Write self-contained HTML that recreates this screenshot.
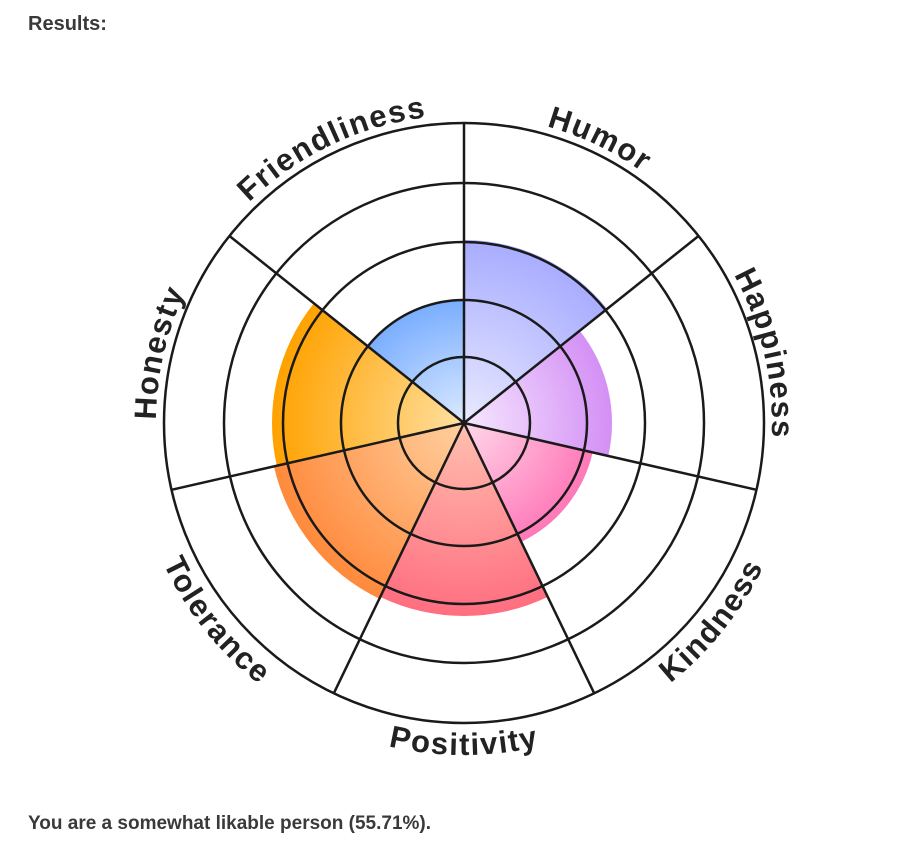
<!DOCTYPE html>
<html><head><meta charset="utf-8"><style>
html,body{margin:0;padding:0;background:#fff;width:911px;height:842px;overflow:hidden}
.t{position:absolute;left:28px;font-family:"Liberation Sans",sans-serif;font-weight:bold;color:#3a3a3a;font-size:20px}
svg{position:absolute;left:0;top:0}
</style></head><body>
<div class="t" style="top:13px">Results:</div>
<div class="t" style="top:813px;font-size:19px">You are a somewhat likable person (55.71%).</div>
<svg width="911" height="842" viewBox="0 0 911 842">
<defs>
<radialGradient id="g1" gradientUnits="userSpaceOnUse" cx="464" cy="423" r="183"><stop offset="0" stop-color="#e8eaff"/><stop offset="1" stop-color="#a8acff"/></radialGradient>
<radialGradient id="g2" gradientUnits="userSpaceOnUse" cx="464" cy="423" r="148"><stop offset="0" stop-color="#f6e8ff"/><stop offset="1" stop-color="#d490f5"/></radialGradient>
<radialGradient id="g3" gradientUnits="userSpaceOnUse" cx="464" cy="423" r="132"><stop offset="0" stop-color="#ffd8ea"/><stop offset="1" stop-color="#ff78b8"/></radialGradient>
<radialGradient id="g4" gradientUnits="userSpaceOnUse" cx="464" cy="423" r="193"><stop offset="0" stop-color="#ffc0b0"/><stop offset="1" stop-color="#ff6e80"/></radialGradient>
<radialGradient id="g5" gradientUnits="userSpaceOnUse" cx="464" cy="423" r="195"><stop offset="0" stop-color="#ffd0a0"/><stop offset="1" stop-color="#ff8a3c"/></radialGradient>
<radialGradient id="g6" gradientUnits="userSpaceOnUse" cx="464" cy="423" r="192"><stop offset="0" stop-color="#ffe0a0"/><stop offset="1" stop-color="#ffa200"/></radialGradient>
<radialGradient id="g7" gradientUnits="userSpaceOnUse" cx="464" cy="423" r="123"><stop offset="0" stop-color="#dceaff"/><stop offset="1" stop-color="#7aaeff"/></radialGradient>
<path id="cw" d="M464,115 A308,308 0 1,1 463.9,115"/>
<path id="ccw" d="M464,91 A332,332 0 1,0 464.1,91"/>
</defs>
<path d="M464,423 L464,240 A183,183 0 0,1 607.1,308.9Z" fill="url(#g1)"/>
<path d="M464,423 L579.7,330.7 A148,148 0 0,1 608.3,455.9Z" fill="url(#g2)"/>
<path d="M464,423 L592.7,452.4 A132,132 0 0,1 521.3,541.9Z" fill="url(#g3)"/>
<path d="M464,423 L547.7,596.9 A193,193 0 0,1 380.3,596.9Z" fill="url(#g4)"/>
<path d="M464,423 L379.4,598.7 A195,195 0 0,1 273.9,466.4Z" fill="url(#g5)"/>
<path d="M464,423 L276.8,465.7 A192,192 0 0,1 313.9,303.3Z" fill="url(#g6)"/>
<path d="M464,423 L367.8,346.3 A123,123 0 0,1 464,300Z" fill="url(#g7)"/>
<g fill="none" stroke="#1a1a1a" stroke-width="2.5">
<circle cx="464" cy="423" r="66"/>
<circle cx="464" cy="423" r="123"/>
<circle cx="464" cy="423" r="181"/>
<circle cx="464" cy="423" r="240"/>
<circle cx="464" cy="423" r="300"/>
<path d="M464,423L464,123M464,423L698.5,236M464,423L756.5,489.8M464,423L594.2,693.3M464,423L333.8,693.3M464,423L171.5,489.8M464,423L229.5,236"/>
</g>
<g font-family="Liberation Sans,sans-serif" font-weight="bold" font-size="31" fill="#222" text-anchor="middle" letter-spacing="1.5">
<text><textPath href="#cw" startOffset="78.6%">Honesty</textPath></text>
<text><textPath href="#cw" startOffset="92.9%">Friendliness</textPath></text>
<text><textPath href="#cw" startOffset="7.1%">Humor</textPath></text>
<text><textPath href="#cw" startOffset="21.4%">Happiness</textPath></text>
<text><textPath href="#ccw" startOffset="35.7%">Tolerance</textPath></text>
<text><textPath href="#ccw" startOffset="50%">Positivity</textPath></text>
<text><textPath href="#ccw" startOffset="64.3%">Kindness</textPath></text>
</g>
</svg>
</body></html>
